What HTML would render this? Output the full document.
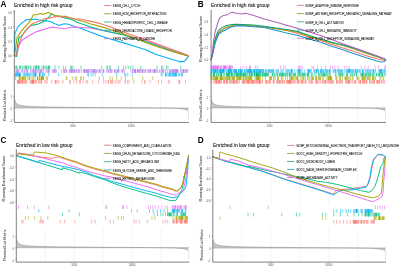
<!DOCTYPE html>
<html><head><meta charset="utf-8"><style>
html,body{margin:0;padding:0;background:#fff;width:400px;height:267px;overflow:hidden}
svg{display:block;will-change:transform;filter:blur(0.3px)}
text{font-family:"Liberation Sans", sans-serif}
</style></head><body>
<svg width="400" height="267" viewBox="0 0 400 267">
<rect width="400" height="267" fill="#fff"/>
<text x="0.50" y="7.00" font-size="8.20" text-anchor="start" font-weight="bold" fill="#000">A</text>
<text x="14.00" y="6.60" font-size="4.95" text-anchor="start" font-weight="normal" fill="#2a2a2a" stroke="#2a2a2a" stroke-width="0.12">Enriched in high risk group</text>
<line x1="43.57" y1="10.00" x2="43.57" y2="63.50" stroke="#efefef" stroke-width="0.6"/>
<line x1="43.57" y1="88.00" x2="43.57" y2="122.45" stroke="#efefef" stroke-width="0.6"/>
<line x1="72.85" y1="10.00" x2="72.85" y2="63.50" stroke="#efefef" stroke-width="0.6"/>
<line x1="72.85" y1="88.00" x2="72.85" y2="122.45" stroke="#efefef" stroke-width="0.6"/>
<line x1="102.12" y1="10.00" x2="102.12" y2="63.50" stroke="#efefef" stroke-width="0.6"/>
<line x1="102.12" y1="88.00" x2="102.12" y2="122.45" stroke="#efefef" stroke-width="0.6"/>
<line x1="131.39" y1="10.00" x2="131.39" y2="63.50" stroke="#efefef" stroke-width="0.6"/>
<line x1="131.39" y1="88.00" x2="131.39" y2="122.45" stroke="#efefef" stroke-width="0.6"/>
<line x1="160.66" y1="10.00" x2="160.66" y2="63.50" stroke="#efefef" stroke-width="0.6"/>
<line x1="160.66" y1="88.00" x2="160.66" y2="122.45" stroke="#efefef" stroke-width="0.6"/>
<polygon points="14.90,108.00 14.70,99.50 15.20,101.20 15.90,102.80 16.90,103.80 18.30,104.70 20.30,105.30 23.30,105.80 28.30,106.25 36.30,106.65 49.30,107.00 74.30,107.35 114.30,107.65 159.00,107.95 175.00,108.30 183.00,109.00 187.00,110.00 188.20,111.00 188.20,108.00" fill="#c6c6c6" stroke="none"/>
<polyline points="14.70,99.50 15.20,101.20 15.90,102.80 16.90,103.80 18.30,104.70 20.30,105.30 23.30,105.80 28.30,106.25 36.30,106.65 49.30,107.00 74.30,107.35 114.30,107.65 159.00,107.95 175.00,108.30 183.00,109.00 187.00,110.00 188.20,111.00" fill="none" stroke="#8a8a8a" stroke-width="0.5"/>
<line x1="188.50" y1="111.00" x2="188.50" y2="119.90" stroke="#d4d4d4" stroke-width="0.6"/>
<line x1="14.30" y1="108.00" x2="189.00" y2="108.00" stroke="#9a9a9a" stroke-width="0.6"/>
<path d="M15.34 65.60V69.20M16.74 65.60V69.20M16.75 65.60V69.20M19.83 65.60V69.20M19.86 65.60V69.20M20.78 65.60V69.20M22.37 65.60V69.20M23.90 65.60V69.20M25.07 65.60V69.20M25.74 65.60V69.20M26.14 65.60V69.20M26.61 65.60V69.20M27.94 65.60V69.20M28.48 65.60V69.20M30.13 65.60V69.20M31.10 65.60V69.20M33.32 65.60V69.20M35.08 65.60V69.20M35.32 65.60V69.20M36.19 65.60V69.20M36.54 65.60V69.20M37.94 65.60V69.20M38.23 65.60V69.20M38.69 65.60V69.20M39.07 65.60V69.20M41.92 65.60V69.20M43.50 65.60V69.20M43.86 65.60V69.20M45.13 65.60V69.20M46.46 65.60V69.20M47.95 65.60V69.20M48.36 65.60V69.20M48.93 65.60V69.20M49.39 65.60V69.20M49.88 65.60V69.20M55.10 65.60V69.20M58.97 65.60V69.20M63.33 65.60V69.20M65.58 65.60V69.20M70.66 65.60V69.20M71.59 65.60V69.20M72.96 65.60V69.20M80.95 65.60V69.20M101.64 65.60V69.20M106.98 65.60V69.20M107.14 65.60V69.20M109.79 65.60V69.20M110.17 65.60V69.20M118.53 65.60V69.20M123.62 65.60V69.20M125.76 65.60V69.20M128.28 65.60V69.20M130.67 65.60V69.20M132.98 65.60V69.20M140.79 65.60V69.20M157.02 65.60V69.20M161.43 65.60V69.20M162.88 65.60V69.20M166.48 65.60V69.20M168.01 65.60V69.20M180.78 65.60V69.20" stroke="#00BF7D" stroke-width="0.55" stroke-opacity="1.00" fill="none"/>
<path d="M15.80 69.20V72.80M16.40 69.20V72.80M16.87 69.20V72.80M17.57 69.20V72.80M17.99 69.20V72.80M18.81 69.20V72.80M18.95 69.20V72.80M21.47 69.20V72.80M22.55 69.20V72.80M22.77 69.20V72.80M24.34 69.20V72.80M24.83 69.20V72.80M26.27 69.20V72.80M26.70 69.20V72.80M27.28 69.20V72.80M27.75 69.20V72.80M30.58 69.20V72.80M31.14 69.20V72.80M32.73 69.20V72.80M33.20 69.20V72.80M33.40 69.20V72.80M33.66 69.20V72.80M33.73 69.20V72.80M35.09 69.20V72.80M35.41 69.20V72.80M35.57 69.20V72.80M35.86 69.20V72.80M36.23 69.20V72.80M37.48 69.20V72.80M38.58 69.20V72.80M39.70 69.20V72.80M40.27 69.20V72.80M40.68 69.20V72.80M41.23 69.20V72.80M41.57 69.20V72.80M42.80 69.20V72.80M43.37 69.20V72.80M45.70 69.20V72.80M46.76 69.20V72.80M47.42 69.20V72.80M48.64 69.20V72.80M48.73 69.20V72.80M48.89 69.20V72.80M48.92 69.20V72.80M51.98 69.20V72.80M53.33 69.20V72.80M53.60 69.20V72.80M54.29 69.20V72.80M54.83 69.20V72.80M54.91 69.20V72.80M55.00 69.20V72.80M56.47 69.20V72.80M61.37 69.20V72.80M63.42 69.20V72.80M64.09 69.20V72.80M64.25 69.20V72.80M64.68 69.20V72.80M65.75 69.20V72.80M66.42 69.20V72.80M66.88 69.20V72.80M69.55 69.20V72.80M69.62 69.20V72.80M70.67 69.20V72.80M71.20 69.20V72.80M71.25 69.20V72.80M71.48 69.20V72.80M72.11 69.20V72.80M72.56 69.20V72.80M72.98 69.20V72.80M73.35 69.20V72.80M74.64 69.20V72.80M74.73 69.20V72.80M75.08 69.20V72.80M76.68 69.20V72.80M76.87 69.20V72.80M78.50 69.20V72.80M78.58 69.20V72.80M79.68 69.20V72.80M81.42 69.20V72.80M83.37 69.20V72.80M84.10 69.20V72.80M84.21 69.20V72.80M84.39 69.20V72.80M85.04 69.20V72.80M85.91 69.20V72.80M86.03 69.20V72.80M86.77 69.20V72.80M87.01 69.20V72.80M87.52 69.20V72.80M87.70 69.20V72.80M88.55 69.20V72.80M88.82 69.20V72.80M88.87 69.20V72.80M90.78 69.20V72.80M91.01 69.20V72.80M92.04 69.20V72.80M92.62 69.20V72.80M93.04 69.20V72.80M93.44 69.20V72.80M94.23 69.20V72.80M94.38 69.20V72.80M94.54 69.20V72.80M95.92 69.20V72.80M95.99 69.20V72.80M95.99 69.20V72.80M97.31 69.20V72.80M98.97 69.20V72.80M99.34 69.20V72.80M99.93 69.20V72.80M100.32 69.20V72.80M102.18 69.20V72.80M103.20 69.20V72.80M103.45 69.20V72.80M103.91 69.20V72.80M106.33 69.20V72.80M107.63 69.20V72.80M108.47 69.20V72.80M108.83 69.20V72.80M110.17 69.20V72.80M110.44 69.20V72.80M110.94 69.20V72.80M111.68 69.20V72.80M112.08 69.20V72.80M114.56 69.20V72.80M115.02 69.20V72.80M115.10 69.20V72.80M116.29 69.20V72.80M117.51 69.20V72.80M117.68 69.20V72.80M118.16 69.20V72.80M118.38 69.20V72.80M119.10 69.20V72.80M121.22 69.20V72.80M122.60 69.20V72.80M122.76 69.20V72.80M122.95 69.20V72.80M124.65 69.20V72.80M130.81 69.20V72.80M132.47 69.20V72.80M132.48 69.20V72.80M134.09 69.20V72.80M134.17 69.20V72.80M134.40 69.20V72.80M135.20 69.20V72.80M135.42 69.20V72.80M135.42 69.20V72.80M135.47 69.20V72.80M135.64 69.20V72.80M137.15 69.20V72.80M137.76 69.20V72.80M137.76 69.20V72.80M138.05 69.20V72.80M138.72 69.20V72.80M139.40 69.20V72.80M139.43 69.20V72.80M140.75 69.20V72.80M141.31 69.20V72.80M142.16 69.20V72.80M142.56 69.20V72.80M142.87 69.20V72.80M143.11 69.20V72.80M144.77 69.20V72.80M145.16 69.20V72.80M145.90 69.20V72.80M147.45 69.20V72.80M148.33 69.20V72.80M149.09 69.20V72.80M149.99 69.20V72.80M150.32 69.20V72.80M150.67 69.20V72.80M150.78 69.20V72.80M152.76 69.20V72.80M153.75 69.20V72.80M154.04 69.20V72.80M154.22 69.20V72.80M154.61 69.20V72.80M154.86 69.20V72.80M154.87 69.20V72.80M155.17 69.20V72.80M156.53 69.20V72.80M157.51 69.20V72.80M159.36 69.20V72.80M160.09 69.20V72.80M161.61 69.20V72.80M161.95 69.20V72.80M162.42 69.20V72.80M163.23 69.20V72.80M163.55 69.20V72.80M165.04 69.20V72.80M165.79 69.20V72.80M167.63 69.20V72.80M169.40 69.20V72.80M169.65 69.20V72.80M170.80 69.20V72.80M171.18 69.20V72.80M171.76 69.20V72.80M172.85 69.20V72.80M172.91 69.20V72.80M173.16 69.20V72.80M173.49 69.20V72.80M174.26 69.20V72.80M174.36 69.20V72.80M175.42 69.20V72.80M175.51 69.20V72.80M176.12 69.20V72.80M176.46 69.20V72.80M176.69 69.20V72.80M177.19 69.20V72.80M177.29 69.20V72.80M177.59 69.20V72.80M177.98 69.20V72.80M180.49 69.20V72.80M181.72 69.20V72.80M182.85 69.20V72.80M183.30 69.20V72.80M183.31 69.20V72.80M183.47 69.20V72.80M184.34 69.20V72.80M185.53 69.20V72.80M185.54 69.20V72.80M186.65 69.20V72.80M187.16 69.20V72.80M187.92 69.20V72.80" stroke="#B27AEE" stroke-width="0.55" stroke-opacity="1.00" fill="none"/>
<path d="M15.52 72.80V76.40M15.75 72.80V76.40M16.73 72.80V76.40M16.95 72.80V76.40M17.01 72.80V76.40M17.42 72.80V76.40M17.91 72.80V76.40M18.55 72.80V76.40M19.23 72.80V76.40M19.45 72.80V76.40M19.53 72.80V76.40M20.04 72.80V76.40M20.07 72.80V76.40M20.30 72.80V76.40M23.37 72.80V76.40M24.51 72.80V76.40M25.24 72.80V76.40M26.37 72.80V76.40M27.26 72.80V76.40M27.81 72.80V76.40M28.31 72.80V76.40M29.34 72.80V76.40M30.37 72.80V76.40M31.83 72.80V76.40M33.12 72.80V76.40M33.72 72.80V76.40M34.79 72.80V76.40M34.91 72.80V76.40M35.06 72.80V76.40M35.67 72.80V76.40M35.78 72.80V76.40M35.97 72.80V76.40M39.35 72.80V76.40M39.51 72.80V76.40M39.60 72.80V76.40M40.30 72.80V76.40M42.20 72.80V76.40M42.47 72.80V76.40M43.41 72.80V76.40M44.62 72.80V76.40M48.66 72.80V76.40M58.66 72.80V76.40M87.76 72.80V76.40M88.58 72.80V76.40M91.15 72.80V76.40M93.06 72.80V76.40M95.26 72.80V76.40M102.21 72.80V76.40M116.52 72.80V76.40M124.63 72.80V76.40M125.85 72.80V76.40M127.81 72.80V76.40M132.16 72.80V76.40M161.10 72.80V76.40M162.16 72.80V76.40M165.59 72.80V76.40M165.77 72.80V76.40M166.09 72.80V76.40M167.15 72.80V76.40M168.74 72.80V76.40M169.38 72.80V76.40M169.67 72.80V76.40M169.93 72.80V76.40M170.81 72.80V76.40M170.92 72.80V76.40M172.23 72.80V76.40M172.63 72.80V76.40M173.15 72.80V76.40M173.97 72.80V76.40M174.03 72.80V76.40M174.64 72.80V76.40M175.50 72.80V76.40M175.74 72.80V76.40M175.90 72.80V76.40M176.55 72.80V76.40M178.38 72.80V76.40M179.61 72.80V76.40M181.21 72.80V76.40M182.01 72.80V76.40M182.27 72.80V76.40" stroke="#00B0F6" stroke-width="0.55" stroke-opacity="1.00" fill="none"/>
<path d="M15.67 76.40V80.00M19.05 76.40V80.00M19.47 76.40V80.00M20.01 76.40V80.00M20.03 76.40V80.00M21.29 76.40V80.00M22.22 76.40V80.00M22.59 76.40V80.00M22.76 76.40V80.00M23.62 76.40V80.00M23.70 76.40V80.00M24.25 76.40V80.00M24.86 76.40V80.00M25.49 76.40V80.00M27.15 76.40V80.00M29.29 76.40V80.00M29.30 76.40V80.00M29.36 76.40V80.00M31.17 76.40V80.00M32.63 76.40V80.00M33.70 76.40V80.00M35.16 76.40V80.00M37.64 76.40V80.00M37.68 76.40V80.00M37.86 76.40V80.00M39.28 76.40V80.00M39.63 76.40V80.00M39.96 76.40V80.00M41.24 76.40V80.00M41.38 76.40V80.00M41.64 76.40V80.00M41.76 76.40V80.00M42.08 76.40V80.00M42.30 76.40V80.00M42.68 76.40V80.00M43.06 76.40V80.00M43.08 76.40V80.00M43.78 76.40V80.00M46.34 76.40V80.00M47.53 76.40V80.00M66.31 76.40V80.00M66.88 76.40V80.00M72.73 76.40V80.00M75.23 76.40V80.00M76.37 76.40V80.00M80.96 76.40V80.00M80.99 76.40V80.00M83.46 76.40V80.00M99.30 76.40V80.00M103.41 76.40V80.00M110.08 76.40V80.00M112.32 76.40V80.00M116.72 76.40V80.00M121.18 76.40V80.00M125.59 76.40V80.00M132.77 76.40V80.00M142.76 76.40V80.00M152.78 76.40V80.00" stroke="#A3A500" stroke-width="0.55" stroke-opacity="1.00" fill="none"/>
<path d="M17.43 80.00V83.60M17.74 80.00V83.60M18.06 80.00V83.60M18.19 80.00V83.60M18.37 80.00V83.60M18.50 80.00V83.60M19.21 80.00V83.60M19.62 80.00V83.60M20.06 80.00V83.60M20.68 80.00V83.60M21.18 80.00V83.60M22.05 80.00V83.60M22.18 80.00V83.60M22.47 80.00V83.60M23.32 80.00V83.60M24.23 80.00V83.60M24.80 80.00V83.60M25.83 80.00V83.60M26.02 80.00V83.60M26.96 80.00V83.60M29.98 80.00V83.60M30.99 80.00V83.60M31.48 80.00V83.60M32.13 80.00V83.60M32.18 80.00V83.60M32.67 80.00V83.60M32.67 80.00V83.60M32.85 80.00V83.60M33.00 80.00V83.60M33.54 80.00V83.60M33.61 80.00V83.60M34.03 80.00V83.60M34.87 80.00V83.60M36.04 80.00V83.60M36.75 80.00V83.60M38.59 80.00V83.60M39.36 80.00V83.60M40.40 80.00V83.60M41.41 80.00V83.60M41.74 80.00V83.60M44.79 80.00V83.60M46.09 80.00V83.60M47.08 80.00V83.60M51.70 80.00V83.60M55.07 80.00V83.60M55.58 80.00V83.60M55.85 80.00V83.60M56.95 80.00V83.60M58.63 80.00V83.60M62.92 80.00V83.60M69.55 80.00V83.60M70.30 80.00V83.60M73.86 80.00V83.60M76.49 80.00V83.60M79.39 80.00V83.60M80.48 80.00V83.60M82.98 80.00V83.60M86.13 80.00V83.60M87.62 80.00V83.60M92.73 80.00V83.60M98.63 80.00V83.60M103.77 80.00V83.60M105.81 80.00V83.60M108.08 80.00V83.60M108.45 80.00V83.60M110.51 80.00V83.60M111.28 80.00V83.60M112.14 80.00V83.60M112.79 80.00V83.60M115.07 80.00V83.60M117.01 80.00V83.60M118.76 80.00V83.60M120.09 80.00V83.60M125.13 80.00V83.60M125.43 80.00V83.60M127.56 80.00V83.60M128.94 80.00V83.60M133.75 80.00V83.60M142.06 80.00V83.60M144.71 80.00V83.60M144.91 80.00V83.60M150.09 80.00V83.60M158.54 80.00V83.60M161.45 80.00V83.60M168.36 80.00V83.60M169.72 80.00V83.60M179.10 80.00V83.60M179.11 80.00V83.60M179.81 80.00V83.60M185.50 80.00V83.60" stroke="#F8766D" stroke-width="0.55" stroke-opacity="1.00" fill="none"/>
<polyline points="14.50,55.50 14.80,33.90 17.60,27.10 22.10,22.60 26.60,19.80 30.00,19.20 31.70,19.80 34.50,19.00 37.90,19.80 41.20,20.40 45.70,21.00 50.20,21.50 55.00,23.70 59.50,25.40 64.00,23.70 68.50,24.30 74.10,26.60 80.90,28.20 88.70,31.60 95.50,33.90 100.00,35.70 111.20,39.30 122.50,42.60 133.70,46.00 145.00,49.50 156.20,54.40 167.50,58.00 176.50,60.70 181.00,61.90 184.40,61.30 187.70,57.40 188.30,55.70" fill="none" stroke="#00B0F6" stroke-width="1.10" stroke-linejoin="round" stroke-linecap="round"/>
<polyline points="14.50,55.50 16.50,56.40 17.60,51.90 18.70,46.20 21.00,41.70 23.20,39.50 26.60,37.20 30.00,35.00 32.20,33.90 36.70,31.60 42.40,29.90 48.00,28.20 52.50,27.10 57.00,27.70 60.60,28.20 64.00,28.80 68.50,27.70 74.10,26.96 80.90,27.60 88.70,27.80 95.50,28.90 100.00,29.90 111.20,32.20 122.50,34.40 133.70,37.40 141.60,39.60 145.00,40.40 156.20,44.60 167.50,48.80 178.70,52.70 188.30,56.00" fill="none" stroke="#E76BF3" stroke-width="1.10" stroke-linejoin="round" stroke-linecap="round"/>
<polyline points="14.50,55.50 16.50,56.40 17.00,49.60 18.70,38.00 20.40,37.00 23.20,33.90 27.70,28.20 31.10,25.40 34.50,24.90 39.00,23.70 42.40,22.10 45.70,20.40 49.10,17.00 51.40,14.20 53.60,14.70 55.00,15.90 59.50,16.40 66.20,18.10 71.90,19.44 77.50,22.44 84.20,24.70 91.00,27.00 100.00,29.80 111.20,32.20 122.50,34.60 133.70,38.20 145.00,41.40 156.20,45.40 167.50,49.40 178.70,53.10 188.30,56.00" fill="none" stroke="#00BF7D" stroke-width="1.10" stroke-linejoin="round" stroke-linecap="round"/>
<polyline points="14.50,55.50 16.00,45.00 17.00,38.00 21.00,31.60 24.40,27.70 28.90,22.60 31.70,18.10 33.40,14.70 36.70,14.70 40.10,13.60 43.50,14.20 48.00,12.50 51.40,13.60 55.00,15.90 61.70,16.40 66.20,16.40 71.90,18.29 77.50,19.95 84.20,21.70 91.00,24.00 100.00,26.40 111.20,29.80 122.50,33.60 133.70,37.80 145.00,42.20 156.20,46.20 167.50,50.00 178.70,53.40 188.30,55.80" fill="none" stroke="#A3A500" stroke-width="1.10" stroke-linejoin="round" stroke-linecap="round"/>
<polyline points="14.50,55.50 16.50,55.00 19.00,44.00 22.00,36.00 26.00,30.00 29.00,27.00 32.20,23.70 36.70,22.10 41.20,20.40 44.60,18.70 49.10,18.10 53.60,17.00 57.00,16.40 66.20,17.00 74.00,18.70 80.90,19.20 88.70,20.90 94.40,22.10 100.00,23.40 111.20,27.30 122.50,31.80 133.70,35.60 145.00,39.40 156.20,43.60 167.50,47.80 178.70,51.80 188.30,55.60" fill="none" stroke="#F8766D" stroke-width="1.10" stroke-linejoin="round" stroke-linecap="round"/>
<line x1="104.10" y1="5.50" x2="111.40" y2="5.50" stroke="#ce7a74" stroke-width="0.85"/>
<text x="112.80" y="7.20" font-size="2.80" text-anchor="start" font-weight="normal" fill="#222" stroke="#222" stroke-width="0.07">KEGG_CELL_CYCLE</text>
<line x1="104.10" y1="13.75" x2="111.40" y2="13.75" stroke="#97982d" stroke-width="0.85"/>
<text x="112.80" y="15.45" font-size="2.80" text-anchor="start" font-weight="normal" fill="#222" stroke="#222" stroke-width="0.07">KEGG_ECM_RECEPTOR_INTERACTION</text>
<line x1="104.10" y1="22.00" x2="111.40" y2="22.00" stroke="#2da97e" stroke-width="0.85"/>
<text x="112.80" y="23.70" font-size="2.80" text-anchor="start" font-weight="normal" fill="#222" stroke="#222" stroke-width="0.07">KEGG_HEMATOPOIETIC_CELL_LINEAGE</text>
<line x1="104.10" y1="30.25" x2="111.40" y2="30.25" stroke="#2d9fcd" stroke-width="0.85"/>
<text x="112.80" y="31.95" font-size="2.80" text-anchor="start" font-weight="normal" fill="#222" stroke="#222" stroke-width="0.07">KEGG_NEUROACTIVE_LIGAND_RECEPTOR</text>
<line x1="104.10" y1="38.50" x2="111.40" y2="38.50" stroke="#c372cb" stroke-width="0.85"/>
<text x="112.80" y="40.20" font-size="2.80" text-anchor="start" font-weight="normal" fill="#222" stroke="#222" stroke-width="0.07">KEGG_PATHWAYS_IN_CANCER</text>
<line x1="14.30" y1="10.00" x2="14.30" y2="122.45" stroke="#555" stroke-width="0.75"/>
<line x1="14.30" y1="122.45" x2="189.00" y2="122.45" stroke="#4d4d4d" stroke-width="0.7"/>
<line x1="13.30" y1="12.30" x2="14.30" y2="12.30" stroke="#666" stroke-width="0.5"/>
<text x="12.10" y="14.10" font-size="2.70" text-anchor="end" font-weight="normal" fill="#505050">0.6</text>
<line x1="13.30" y1="26.70" x2="14.30" y2="26.70" stroke="#666" stroke-width="0.5"/>
<text x="12.10" y="28.50" font-size="2.70" text-anchor="end" font-weight="normal" fill="#505050">0.4</text>
<line x1="13.30" y1="41.10" x2="14.30" y2="41.10" stroke="#666" stroke-width="0.5"/>
<text x="12.10" y="42.90" font-size="2.70" text-anchor="end" font-weight="normal" fill="#505050">0.2</text>
<line x1="13.30" y1="55.50" x2="14.30" y2="55.50" stroke="#666" stroke-width="0.5"/>
<text x="12.10" y="57.30" font-size="2.70" text-anchor="end" font-weight="normal" fill="#505050">0.0</text>
<line x1="13.30" y1="96.60" x2="14.30" y2="96.60" stroke="#666" stroke-width="0.5"/>
<text x="12.10" y="98.40" font-size="2.70" text-anchor="end" font-weight="normal" fill="#505050">1</text>
<line x1="13.30" y1="108.10" x2="14.30" y2="108.10" stroke="#666" stroke-width="0.5"/>
<text x="12.10" y="109.90" font-size="2.70" text-anchor="end" font-weight="normal" fill="#505050">0</text>
<line x1="13.30" y1="119.90" x2="14.30" y2="119.90" stroke="#666" stroke-width="0.5"/>
<text x="12.10" y="121.70" font-size="2.70" text-anchor="end" font-weight="normal" fill="#505050">-1</text>
<line x1="72.85" y1="122.45" x2="72.85" y2="123.45" stroke="#666" stroke-width="0.5"/>
<text x="72.85" y="126.65" font-size="2.55" text-anchor="middle" font-weight="normal" fill="#555">5000</text>
<line x1="131.39" y1="122.45" x2="131.39" y2="123.45" stroke="#666" stroke-width="0.5"/>
<text x="131.39" y="126.65" font-size="2.55" text-anchor="middle" font-weight="normal" fill="#555">10000</text>
<text x="5.60" y="39.00" font-size="3.85" text-anchor="middle" font-weight="normal" fill="#3a3a3a" transform="rotate(-90 5.60 39.00)" stroke="#3a3a3a" stroke-width="0.04">Running Enrichment Score</text>
<text x="5.60" y="105.30" font-size="3.80" text-anchor="middle" font-weight="normal" fill="#3a3a3a" transform="rotate(-90 5.60 105.30)" stroke="#3a3a3a" stroke-width="0.04">Ranked List Metric</text>
<text x="197.80" y="7.00" font-size="8.20" text-anchor="start" font-weight="bold" fill="#000">B</text>
<text x="211.00" y="6.60" font-size="4.95" text-anchor="start" font-weight="normal" fill="#2a2a2a" stroke="#2a2a2a" stroke-width="0.12">Enriched in high risk group</text>
<line x1="240.41" y1="9.90" x2="240.41" y2="63.50" stroke="#efefef" stroke-width="0.6"/>
<line x1="240.41" y1="88.00" x2="240.41" y2="122.45" stroke="#efefef" stroke-width="0.6"/>
<line x1="269.71" y1="9.90" x2="269.71" y2="63.50" stroke="#efefef" stroke-width="0.6"/>
<line x1="269.71" y1="88.00" x2="269.71" y2="122.45" stroke="#efefef" stroke-width="0.6"/>
<line x1="299.02" y1="9.90" x2="299.02" y2="63.50" stroke="#efefef" stroke-width="0.6"/>
<line x1="299.02" y1="88.00" x2="299.02" y2="122.45" stroke="#efefef" stroke-width="0.6"/>
<line x1="328.33" y1="9.90" x2="328.33" y2="63.50" stroke="#efefef" stroke-width="0.6"/>
<line x1="328.33" y1="88.00" x2="328.33" y2="122.45" stroke="#efefef" stroke-width="0.6"/>
<line x1="357.63" y1="9.90" x2="357.63" y2="63.50" stroke="#efefef" stroke-width="0.6"/>
<line x1="357.63" y1="88.00" x2="357.63" y2="122.45" stroke="#efefef" stroke-width="0.6"/>
<polygon points="211.70,107.90 211.50,99.40 212.00,101.10 212.70,102.70 213.70,103.70 215.10,104.60 217.10,105.20 220.10,105.70 225.10,106.15 233.10,106.55 246.10,106.90 271.10,107.25 311.10,107.55 356.00,107.85 372.00,108.20 380.00,108.90 384.00,109.90 385.20,110.90 385.20,107.90" fill="#c6c6c6" stroke="none"/>
<polyline points="211.50,99.40 212.00,101.10 212.70,102.70 213.70,103.70 215.10,104.60 217.10,105.20 220.10,105.70 225.10,106.15 233.10,106.55 246.10,106.90 271.10,107.25 311.10,107.55 356.00,107.85 372.00,108.20 380.00,108.90 384.00,109.90 385.20,110.90" fill="none" stroke="#8a8a8a" stroke-width="0.5"/>
<line x1="385.50" y1="110.90" x2="385.50" y2="119.80" stroke="#d4d4d4" stroke-width="0.6"/>
<line x1="211.10" y1="107.90" x2="386.00" y2="107.90" stroke="#9a9a9a" stroke-width="0.6"/>
<path d="M211.77 65.60V69.20M211.98 65.60V69.20M212.22 65.60V69.20M213.17 65.60V69.20M213.44 65.60V69.20M213.62 65.60V69.20M213.91 65.60V69.20M214.31 65.60V69.20M214.85 65.60V69.20M214.97 65.60V69.20M215.40 65.60V69.20M215.78 65.60V69.20M216.00 65.60V69.20M216.37 65.60V69.20M216.83 65.60V69.20M217.31 65.60V69.20M217.67 65.60V69.20M218.00 65.60V69.20M218.04 65.60V69.20M218.38 65.60V69.20M219.94 65.60V69.20M220.26 65.60V69.20M220.71 65.60V69.20M221.59 65.60V69.20M223.25 65.60V69.20M223.25 65.60V69.20M223.79 65.60V69.20M224.37 65.60V69.20M224.53 65.60V69.20M224.72 65.60V69.20M224.76 65.60V69.20M225.57 65.60V69.20M225.65 65.60V69.20M225.72 65.60V69.20M225.97 65.60V69.20M227.21 65.60V69.20M228.01 65.60V69.20M229.11 65.60V69.20M229.38 65.60V69.20M230.04 65.60V69.20M230.05 65.60V69.20M230.07 65.60V69.20M230.13 65.60V69.20M230.98 65.60V69.20M231.87 65.60V69.20M232.31 65.60V69.20M240.37 65.60V69.20M243.26 65.60V69.20M246.36 65.60V69.20M249.68 65.60V69.20M249.92 65.60V69.20M250.10 65.60V69.20M255.56 65.60V69.20M257.36 65.60V69.20M280.56 65.60V69.20M283.36 65.60V69.20M285.10 65.60V69.20M298.67 65.60V69.20M299.21 65.60V69.20M300.90 65.60V69.20M302.10 65.60V69.20M312.00 65.60V69.20M313.67 65.60V69.20M317.58 65.60V69.20M321.38 65.60V69.20M325.58 65.60V69.20M330.36 65.60V69.20M332.33 65.60V69.20M334.77 65.60V69.20M338.23 65.60V69.20M344.39 65.60V69.20M347.07 65.60V69.20M349.49 65.60V69.20M361.28 65.60V69.20M364.93 65.60V69.20M368.17 65.60V69.20M375.04 65.60V69.20M378.69 65.60V69.20M384.87 65.60V69.20M385.38 65.60V69.20" stroke="#E76BF3" stroke-width="0.55" stroke-opacity="1.00" fill="none"/>
<path d="M212.15 69.20V72.80M213.29 69.20V72.80M213.64 69.20V72.80M213.78 69.20V72.80M214.03 69.20V72.80M214.50 69.20V72.80M215.15 69.20V72.80M215.32 69.20V72.80M215.33 69.20V72.80M215.33 69.20V72.80M216.48 69.20V72.80M216.96 69.20V72.80M217.56 69.20V72.80M217.88 69.20V72.80M217.99 69.20V72.80M219.43 69.20V72.80M219.79 69.20V72.80M219.92 69.20V72.80M220.16 69.20V72.80M220.19 69.20V72.80M220.67 69.20V72.80M220.97 69.20V72.80M221.65 69.20V72.80M222.01 69.20V72.80M222.37 69.20V72.80M222.66 69.20V72.80M223.15 69.20V72.80M223.17 69.20V72.80M223.27 69.20V72.80M223.33 69.20V72.80M223.87 69.20V72.80M224.38 69.20V72.80M225.91 69.20V72.80M226.72 69.20V72.80M227.79 69.20V72.80M228.23 69.20V72.80M228.46 69.20V72.80M228.64 69.20V72.80M228.71 69.20V72.80M229.53 69.20V72.80M229.69 69.20V72.80M229.81 69.20V72.80M229.99 69.20V72.80M230.03 69.20V72.80M230.52 69.20V72.80M230.56 69.20V72.80M231.54 69.20V72.80M231.66 69.20V72.80M232.14 69.20V72.80M233.66 69.20V72.80M233.75 69.20V72.80M234.86 69.20V72.80M235.00 69.20V72.80M235.19 69.20V72.80M235.27 69.20V72.80M235.56 69.20V72.80M235.59 69.20V72.80M235.81 69.20V72.80M235.88 69.20V72.80M236.24 69.20V72.80M236.60 69.20V72.80M238.42 69.20V72.80M238.50 69.20V72.80M238.71 69.20V72.80M239.88 69.20V72.80M240.10 69.20V72.80M240.34 69.20V72.80M240.67 69.20V72.80M241.23 69.20V72.80M241.56 69.20V72.80M241.89 69.20V72.80M242.48 69.20V72.80M244.44 69.20V72.80M244.80 69.20V72.80M245.11 69.20V72.80M246.47 69.20V72.80M247.03 69.20V72.80M247.46 69.20V72.80M247.91 69.20V72.80M248.23 69.20V72.80M248.61 69.20V72.80M249.15 69.20V72.80M249.30 69.20V72.80M249.45 69.20V72.80M250.05 69.20V72.80M250.10 69.20V72.80M250.65 69.20V72.80M250.78 69.20V72.80M251.06 69.20V72.80M251.24 69.20V72.80M251.70 69.20V72.80M252.18 69.20V72.80M253.56 69.20V72.80M254.00 69.20V72.80M254.05 69.20V72.80M254.39 69.20V72.80M254.60 69.20V72.80M254.91 69.20V72.80M255.14 69.20V72.80M256.31 69.20V72.80M256.50 69.20V72.80M256.54 69.20V72.80M257.69 69.20V72.80M258.00 69.20V72.80M258.15 69.20V72.80M258.50 69.20V72.80M259.48 69.20V72.80M259.66 69.20V72.80M259.75 69.20V72.80M259.88 69.20V72.80M260.80 69.20V72.80M260.99 69.20V72.80M261.29 69.20V72.80M262.49 69.20V72.80M262.96 69.20V72.80M263.19 69.20V72.80M263.57 69.20V72.80M265.28 69.20V72.80M265.82 69.20V72.80M266.15 69.20V72.80M268.00 69.20V72.80M268.03 69.20V72.80M269.24 69.20V72.80M269.59 69.20V72.80M270.02 69.20V72.80M270.76 69.20V72.80M271.84 69.20V72.80M271.95 69.20V72.80M272.42 69.20V72.80M273.56 69.20V72.80M273.64 69.20V72.80M275.94 69.20V72.80M276.83 69.20V72.80M277.74 69.20V72.80M278.32 69.20V72.80M280.93 69.20V72.80M282.09 69.20V72.80M283.18 69.20V72.80M285.93 69.20V72.80M286.72 69.20V72.80M287.67 69.20V72.80M288.41 69.20V72.80M289.79 69.20V72.80M290.91 69.20V72.80M291.13 69.20V72.80M291.78 69.20V72.80M291.87 69.20V72.80M292.41 69.20V72.80M294.77 69.20V72.80M297.17 69.20V72.80M298.13 69.20V72.80M298.81 69.20V72.80M298.99 69.20V72.80M299.08 69.20V72.80M299.28 69.20V72.80M299.39 69.20V72.80M299.52 69.20V72.80M300.08 69.20V72.80M300.86 69.20V72.80M302.25 69.20V72.80M304.76 69.20V72.80M307.60 69.20V72.80M308.56 69.20V72.80M308.63 69.20V72.80M309.00 69.20V72.80M309.06 69.20V72.80M309.29 69.20V72.80M310.59 69.20V72.80M311.11 69.20V72.80M313.69 69.20V72.80M314.67 69.20V72.80M315.77 69.20V72.80M316.30 69.20V72.80M316.46 69.20V72.80M317.46 69.20V72.80M318.26 69.20V72.80M318.45 69.20V72.80M320.35 69.20V72.80M320.44 69.20V72.80M321.33 69.20V72.80M321.98 69.20V72.80M322.23 69.20V72.80M323.39 69.20V72.80M324.03 69.20V72.80M325.20 69.20V72.80M326.23 69.20V72.80M326.25 69.20V72.80M327.33 69.20V72.80M327.87 69.20V72.80M329.22 69.20V72.80M329.30 69.20V72.80M329.71 69.20V72.80M330.65 69.20V72.80M333.22 69.20V72.80M333.63 69.20V72.80M334.80 69.20V72.80M335.75 69.20V72.80M335.77 69.20V72.80M337.45 69.20V72.80M338.30 69.20V72.80M338.98 69.20V72.80M339.61 69.20V72.80M340.84 69.20V72.80M341.13 69.20V72.80M341.23 69.20V72.80M342.57 69.20V72.80M344.17 69.20V72.80M346.05 69.20V72.80M346.35 69.20V72.80M347.79 69.20V72.80M348.08 69.20V72.80M348.13 69.20V72.80M348.70 69.20V72.80M348.73 69.20V72.80M349.46 69.20V72.80M349.57 69.20V72.80M349.65 69.20V72.80M350.36 69.20V72.80M351.19 69.20V72.80M351.80 69.20V72.80M352.56 69.20V72.80M353.54 69.20V72.80M353.98 69.20V72.80M355.57 69.20V72.80M355.75 69.20V72.80M356.25 69.20V72.80M356.80 69.20V72.80M357.56 69.20V72.80M358.22 69.20V72.80M359.63 69.20V72.80M360.20 69.20V72.80M362.61 69.20V72.80M362.65 69.20V72.80M362.98 69.20V72.80M363.93 69.20V72.80M365.62 69.20V72.80M367.02 69.20V72.80M367.31 69.20V72.80M368.22 69.20V72.80M369.28 69.20V72.80M370.11 69.20V72.80M371.06 69.20V72.80M372.20 69.20V72.80M373.29 69.20V72.80M373.50 69.20V72.80M374.11 69.20V72.80M375.50 69.20V72.80M378.88 69.20V72.80M379.48 69.20V72.80M380.20 69.20V72.80M380.46 69.20V72.80M380.80 69.20V72.80M380.82 69.20V72.80M381.35 69.20V72.80M381.43 69.20V72.80M381.86 69.20V72.80M383.08 69.20V72.80M383.91 69.20V72.80M384.64 69.20V72.80M385.15 69.20V72.80" stroke="#00B0F6" stroke-width="0.55" stroke-opacity="1.00" fill="none"/>
<path d="M213.13 72.80V76.40M213.55 72.80V76.40M213.77 72.80V76.40M214.33 72.80V76.40M214.36 72.80V76.40M214.50 72.80V76.40M216.23 72.80V76.40M216.64 72.80V76.40M217.79 72.80V76.40M218.74 72.80V76.40M218.83 72.80V76.40M220.23 72.80V76.40M220.84 72.80V76.40M220.88 72.80V76.40M221.13 72.80V76.40M221.18 72.80V76.40M221.67 72.80V76.40M223.12 72.80V76.40M224.40 72.80V76.40M226.27 72.80V76.40M226.75 72.80V76.40M226.91 72.80V76.40M227.00 72.80V76.40M227.33 72.80V76.40M227.76 72.80V76.40M228.59 72.80V76.40M228.76 72.80V76.40M228.98 72.80V76.40M229.07 72.80V76.40M229.15 72.80V76.40M229.94 72.80V76.40M231.23 72.80V76.40M231.33 72.80V76.40M231.65 72.80V76.40M231.72 72.80V76.40M232.72 72.80V76.40M232.81 72.80V76.40M234.11 72.80V76.40M234.71 72.80V76.40M235.93 72.80V76.40M236.30 72.80V76.40M236.58 72.80V76.40M236.83 72.80V76.40M237.15 72.80V76.40M237.36 72.80V76.40M237.53 72.80V76.40M237.70 72.80V76.40M238.07 72.80V76.40M238.24 72.80V76.40M239.18 72.80V76.40M239.96 72.80V76.40M239.98 72.80V76.40M240.06 72.80V76.40M240.30 72.80V76.40M240.59 72.80V76.40M240.85 72.80V76.40M241.20 72.80V76.40M241.39 72.80V76.40M242.88 72.80V76.40M243.06 72.80V76.40M243.24 72.80V76.40M243.27 72.80V76.40M243.73 72.80V76.40M244.04 72.80V76.40M244.32 72.80V76.40M244.89 72.80V76.40M245.30 72.80V76.40M245.52 72.80V76.40M245.99 72.80V76.40M246.91 72.80V76.40M247.70 72.80V76.40M249.15 72.80V76.40M249.49 72.80V76.40M249.64 72.80V76.40M250.20 72.80V76.40M251.35 72.80V76.40M251.61 72.80V76.40M251.75 72.80V76.40M252.63 72.80V76.40M252.79 72.80V76.40M254.31 72.80V76.40M254.70 72.80V76.40M254.98 72.80V76.40M255.99 72.80V76.40M256.21 72.80V76.40M256.34 72.80V76.40M256.40 72.80V76.40M256.62 72.80V76.40M256.74 72.80V76.40M257.02 72.80V76.40M257.25 72.80V76.40M257.70 72.80V76.40M257.82 72.80V76.40M257.92 72.80V76.40M257.99 72.80V76.40M258.06 72.80V76.40M258.14 72.80V76.40M259.58 72.80V76.40M259.83 72.80V76.40M259.93 72.80V76.40M260.51 72.80V76.40M261.15 72.80V76.40M262.29 72.80V76.40M262.75 72.80V76.40M263.01 72.80V76.40M263.76 72.80V76.40M264.15 72.80V76.40M264.82 72.80V76.40M265.10 72.80V76.40M265.28 72.80V76.40M265.32 72.80V76.40M266.18 72.80V76.40M266.38 72.80V76.40M267.16 72.80V76.40M267.23 72.80V76.40M268.22 72.80V76.40M268.39 72.80V76.40M272.27 72.80V76.40M272.42 72.80V76.40M273.00 72.80V76.40M274.28 72.80V76.40M274.88 72.80V76.40M276.15 72.80V76.40M277.48 72.80V76.40M277.62 72.80V76.40M279.26 72.80V76.40M279.88 72.80V76.40M280.05 72.80V76.40M280.38 72.80V76.40M281.59 72.80V76.40M282.11 72.80V76.40M282.11 72.80V76.40M282.47 72.80V76.40M282.76 72.80V76.40M283.73 72.80V76.40M284.00 72.80V76.40M284.57 72.80V76.40M285.60 72.80V76.40M286.17 72.80V76.40M287.26 72.80V76.40M287.42 72.80V76.40M289.07 72.80V76.40M289.40 72.80V76.40M289.73 72.80V76.40M290.05 72.80V76.40M290.11 72.80V76.40M291.38 72.80V76.40M292.12 72.80V76.40M293.55 72.80V76.40M293.89 72.80V76.40M294.82 72.80V76.40M295.00 72.80V76.40M295.45 72.80V76.40M297.59 72.80V76.40M298.65 72.80V76.40M299.12 72.80V76.40M299.83 72.80V76.40M300.49 72.80V76.40M301.86 72.80V76.40M301.88 72.80V76.40M302.91 72.80V76.40M303.13 72.80V76.40M303.36 72.80V76.40M304.39 72.80V76.40M304.61 72.80V76.40M305.62 72.80V76.40M307.22 72.80V76.40M307.60 72.80V76.40M307.84 72.80V76.40M307.87 72.80V76.40M308.19 72.80V76.40M308.73 72.80V76.40M311.12 72.80V76.40M311.91 72.80V76.40M312.27 72.80V76.40M314.73 72.80V76.40M316.09 72.80V76.40M318.52 72.80V76.40M319.22 72.80V76.40M320.07 72.80V76.40M321.33 72.80V76.40M321.74 72.80V76.40M322.84 72.80V76.40M323.00 72.80V76.40M323.60 72.80V76.40M324.24 72.80V76.40M324.62 72.80V76.40M324.78 72.80V76.40M325.23 72.80V76.40M326.43 72.80V76.40M327.35 72.80V76.40M328.20 72.80V76.40M329.48 72.80V76.40M330.27 72.80V76.40M335.40 72.80V76.40M336.06 72.80V76.40M338.42 72.80V76.40M339.63 72.80V76.40M339.96 72.80V76.40M340.67 72.80V76.40M341.39 72.80V76.40M342.18 72.80V76.40M342.63 72.80V76.40M343.89 72.80V76.40M346.49 72.80V76.40M347.20 72.80V76.40M347.78 72.80V76.40M350.49 72.80V76.40M351.60 72.80V76.40M352.60 72.80V76.40M353.22 72.80V76.40M354.54 72.80V76.40M355.97 72.80V76.40M356.55 72.80V76.40M356.74 72.80V76.40M360.90 72.80V76.40M361.13 72.80V76.40M361.64 72.80V76.40M362.47 72.80V76.40M362.99 72.80V76.40M363.03 72.80V76.40M363.35 72.80V76.40M363.98 72.80V76.40M365.10 72.80V76.40M365.68 72.80V76.40M366.64 72.80V76.40M366.91 72.80V76.40M366.97 72.80V76.40M368.85 72.80V76.40M368.95 72.80V76.40M369.14 72.80V76.40M370.15 72.80V76.40M370.62 72.80V76.40M372.07 72.80V76.40M372.53 72.80V76.40M373.58 72.80V76.40M374.57 72.80V76.40M376.56 72.80V76.40M376.66 72.80V76.40M378.23 72.80V76.40M378.67 72.80V76.40M379.52 72.80V76.40M379.76 72.80V76.40M380.84 72.80V76.40M381.86 72.80V76.40M382.16 72.80V76.40M382.28 72.80V76.40M382.70 72.80V76.40M384.18 72.80V76.40M385.30 72.80V76.40" stroke="#00BF7D" stroke-width="0.55" stroke-opacity="1.00" fill="none"/>
<path d="M213.12 76.40V80.00M213.19 76.40V80.00M213.87 76.40V80.00M214.68 76.40V80.00M214.76 76.40V80.00M215.64 76.40V80.00M216.01 76.40V80.00M216.12 76.40V80.00M216.12 76.40V80.00M216.73 76.40V80.00M216.97 76.40V80.00M217.14 76.40V80.00M217.49 76.40V80.00M218.25 76.40V80.00M220.03 76.40V80.00M220.14 76.40V80.00M220.57 76.40V80.00M220.74 76.40V80.00M221.22 76.40V80.00M221.28 76.40V80.00M221.39 76.40V80.00M221.44 76.40V80.00M222.37 76.40V80.00M222.61 76.40V80.00M223.43 76.40V80.00M224.40 76.40V80.00M225.23 76.40V80.00M225.85 76.40V80.00M226.63 76.40V80.00M227.09 76.40V80.00M227.52 76.40V80.00M227.88 76.40V80.00M228.61 76.40V80.00M229.23 76.40V80.00M229.41 76.40V80.00M229.70 76.40V80.00M229.74 76.40V80.00M230.10 76.40V80.00M231.98 76.40V80.00M232.22 76.40V80.00M232.34 76.40V80.00M233.34 76.40V80.00M233.48 76.40V80.00M233.84 76.40V80.00M234.37 76.40V80.00M234.76 76.40V80.00M236.61 76.40V80.00M237.39 76.40V80.00M237.44 76.40V80.00M237.85 76.40V80.00M238.18 76.40V80.00M238.35 76.40V80.00M239.46 76.40V80.00M239.50 76.40V80.00M240.28 76.40V80.00M240.35 76.40V80.00M240.42 76.40V80.00M240.45 76.40V80.00M241.81 76.40V80.00M242.83 76.40V80.00M243.58 76.40V80.00M243.71 76.40V80.00M244.99 76.40V80.00M245.94 76.40V80.00M246.08 76.40V80.00M246.46 76.40V80.00M247.24 76.40V80.00M247.95 76.40V80.00M248.47 76.40V80.00M249.32 76.40V80.00M249.59 76.40V80.00M249.62 76.40V80.00M250.64 76.40V80.00M250.86 76.40V80.00M251.16 76.40V80.00M251.39 76.40V80.00M251.77 76.40V80.00M254.84 76.40V80.00M256.10 76.40V80.00M256.39 76.40V80.00M256.81 76.40V80.00M257.38 76.40V80.00M257.53 76.40V80.00M257.54 76.40V80.00M257.62 76.40V80.00M258.60 76.40V80.00M258.74 76.40V80.00M258.77 76.40V80.00M258.80 76.40V80.00M259.43 76.40V80.00M260.50 76.40V80.00M262.41 76.40V80.00M265.38 76.40V80.00M269.86 76.40V80.00M269.90 76.40V80.00M270.31 76.40V80.00M270.89 76.40V80.00M271.23 76.40V80.00M271.39 76.40V80.00M273.66 76.40V80.00M273.91 76.40V80.00M275.24 76.40V80.00M277.53 76.40V80.00M277.87 76.40V80.00M278.47 76.40V80.00M281.38 76.40V80.00M281.82 76.40V80.00M283.01 76.40V80.00M285.65 76.40V80.00M287.37 76.40V80.00M289.62 76.40V80.00M290.04 76.40V80.00M291.20 76.40V80.00M291.29 76.40V80.00M291.89 76.40V80.00M292.19 76.40V80.00M292.67 76.40V80.00M293.25 76.40V80.00M294.73 76.40V80.00M295.04 76.40V80.00M296.74 76.40V80.00M296.93 76.40V80.00M297.20 76.40V80.00M297.52 76.40V80.00M298.07 76.40V80.00M300.28 76.40V80.00M301.90 76.40V80.00M303.00 76.40V80.00M303.19 76.40V80.00M304.02 76.40V80.00M305.64 76.40V80.00M307.52 76.40V80.00M308.83 76.40V80.00M309.86 76.40V80.00M311.61 76.40V80.00M311.99 76.40V80.00M312.86 76.40V80.00M313.14 76.40V80.00M313.24 76.40V80.00M315.71 76.40V80.00M316.03 76.40V80.00M316.61 76.40V80.00M316.65 76.40V80.00M318.30 76.40V80.00M319.08 76.40V80.00M319.31 76.40V80.00M320.20 76.40V80.00M320.50 76.40V80.00M322.72 76.40V80.00M323.31 76.40V80.00M326.29 76.40V80.00M327.93 76.40V80.00M328.27 76.40V80.00M328.50 76.40V80.00M329.29 76.40V80.00M329.77 76.40V80.00M330.04 76.40V80.00M330.19 76.40V80.00M330.48 76.40V80.00M330.67 76.40V80.00M330.81 76.40V80.00M331.32 76.40V80.00M331.79 76.40V80.00M335.97 76.40V80.00M336.24 76.40V80.00M336.99 76.40V80.00M339.54 76.40V80.00M339.91 76.40V80.00M340.58 76.40V80.00M342.50 76.40V80.00M344.84 76.40V80.00M345.61 76.40V80.00M345.82 76.40V80.00M346.66 76.40V80.00M346.82 76.40V80.00M347.32 76.40V80.00M348.15 76.40V80.00M349.34 76.40V80.00M350.52 76.40V80.00M352.22 76.40V80.00M353.02 76.40V80.00M357.11 76.40V80.00M357.23 76.40V80.00M357.90 76.40V80.00M358.99 76.40V80.00M361.70 76.40V80.00M362.42 76.40V80.00M362.53 76.40V80.00M362.88 76.40V80.00M363.53 76.40V80.00M364.14 76.40V80.00M364.56 76.40V80.00M365.25 76.40V80.00M365.52 76.40V80.00M367.21 76.40V80.00M367.39 76.40V80.00M368.14 76.40V80.00M368.80 76.40V80.00M369.29 76.40V80.00M370.45 76.40V80.00M372.43 76.40V80.00M372.79 76.40V80.00M373.24 76.40V80.00M373.51 76.40V80.00M374.89 76.40V80.00M375.31 76.40V80.00M379.89 76.40V80.00M380.92 76.40V80.00M383.00 76.40V80.00M383.81 76.40V80.00" stroke="#A3A500" stroke-width="0.55" stroke-opacity="1.00" fill="none"/>
<path d="M213.80 80.00V83.60M214.77 80.00V83.60M215.34 80.00V83.60M216.09 80.00V83.60M216.41 80.00V83.60M216.49 80.00V83.60M216.65 80.00V83.60M217.55 80.00V83.60M218.30 80.00V83.60M218.87 80.00V83.60M219.26 80.00V83.60M219.41 80.00V83.60M219.57 80.00V83.60M220.76 80.00V83.60M220.90 80.00V83.60M221.32 80.00V83.60M223.65 80.00V83.60M223.95 80.00V83.60M224.03 80.00V83.60M224.53 80.00V83.60M224.79 80.00V83.60M226.62 80.00V83.60M226.66 80.00V83.60M227.00 80.00V83.60M227.18 80.00V83.60M227.69 80.00V83.60M229.62 80.00V83.60M229.82 80.00V83.60M230.78 80.00V83.60M231.37 80.00V83.60M232.86 80.00V83.60M233.19 80.00V83.60M233.32 80.00V83.60M233.54 80.00V83.60M233.64 80.00V83.60M234.51 80.00V83.60M235.02 80.00V83.60M235.73 80.00V83.60M236.26 80.00V83.60M236.81 80.00V83.60M237.54 80.00V83.60M238.02 80.00V83.60M239.57 80.00V83.60M242.29 80.00V83.60M242.91 80.00V83.60M243.14 80.00V83.60M243.93 80.00V83.60M244.18 80.00V83.60M244.20 80.00V83.60M245.92 80.00V83.60M246.19 80.00V83.60M246.77 80.00V83.60M247.48 80.00V83.60M247.65 80.00V83.60M248.37 80.00V83.60M248.51 80.00V83.60M248.67 80.00V83.60M248.72 80.00V83.60M248.77 80.00V83.60M250.15 80.00V83.60M250.36 80.00V83.60M251.32 80.00V83.60M251.92 80.00V83.60M252.31 80.00V83.60M252.48 80.00V83.60M253.27 80.00V83.60M253.56 80.00V83.60M253.96 80.00V83.60M254.90 80.00V83.60M254.95 80.00V83.60M256.38 80.00V83.60M256.38 80.00V83.60M257.75 80.00V83.60M257.99 80.00V83.60M258.74 80.00V83.60M259.42 80.00V83.60M259.48 80.00V83.60M259.61 80.00V83.60M259.87 80.00V83.60M259.92 80.00V83.60M260.56 80.00V83.60M262.17 80.00V83.60M262.44 80.00V83.60M265.84 80.00V83.60M266.13 80.00V83.60M266.25 80.00V83.60M266.58 80.00V83.60M267.91 80.00V83.60M268.58 80.00V83.60M269.60 80.00V83.60M269.92 80.00V83.60M270.74 80.00V83.60M273.08 80.00V83.60M273.67 80.00V83.60M274.36 80.00V83.60M276.58 80.00V83.60M277.74 80.00V83.60M277.81 80.00V83.60M277.92 80.00V83.60M279.33 80.00V83.60M279.61 80.00V83.60M279.77 80.00V83.60M280.65 80.00V83.60M281.86 80.00V83.60M282.13 80.00V83.60M283.04 80.00V83.60M284.08 80.00V83.60M284.68 80.00V83.60M286.84 80.00V83.60M286.93 80.00V83.60M286.97 80.00V83.60M287.82 80.00V83.60M288.53 80.00V83.60M288.79 80.00V83.60M289.26 80.00V83.60M289.51 80.00V83.60M289.89 80.00V83.60M289.92 80.00V83.60M289.97 80.00V83.60M290.03 80.00V83.60M290.51 80.00V83.60M291.40 80.00V83.60M292.08 80.00V83.60M293.05 80.00V83.60M293.71 80.00V83.60M294.08 80.00V83.60M295.55 80.00V83.60M297.02 80.00V83.60M298.05 80.00V83.60M298.18 80.00V83.60M298.70 80.00V83.60M298.72 80.00V83.60M300.14 80.00V83.60M301.45 80.00V83.60M301.92 80.00V83.60M302.35 80.00V83.60M302.95 80.00V83.60M303.00 80.00V83.60M305.01 80.00V83.60M305.30 80.00V83.60M305.92 80.00V83.60M308.14 80.00V83.60M309.92 80.00V83.60M310.04 80.00V83.60M311.61 80.00V83.60M311.75 80.00V83.60M312.83 80.00V83.60M315.98 80.00V83.60M316.16 80.00V83.60M316.47 80.00V83.60M316.53 80.00V83.60M317.15 80.00V83.60M318.29 80.00V83.60M319.91 80.00V83.60M320.93 80.00V83.60M322.55 80.00V83.60M323.51 80.00V83.60M324.11 80.00V83.60M325.12 80.00V83.60M325.40 80.00V83.60M325.46 80.00V83.60M326.72 80.00V83.60M327.89 80.00V83.60M328.45 80.00V83.60M329.52 80.00V83.60M330.15 80.00V83.60M331.04 80.00V83.60M331.11 80.00V83.60M331.67 80.00V83.60M332.62 80.00V83.60M333.49 80.00V83.60M336.66 80.00V83.60M336.94 80.00V83.60M336.98 80.00V83.60M338.08 80.00V83.60M339.71 80.00V83.60M339.72 80.00V83.60M340.78 80.00V83.60M341.69 80.00V83.60M342.41 80.00V83.60M345.59 80.00V83.60M346.49 80.00V83.60M346.84 80.00V83.60M347.20 80.00V83.60M348.29 80.00V83.60M348.66 80.00V83.60M348.72 80.00V83.60M349.13 80.00V83.60M349.64 80.00V83.60M350.89 80.00V83.60M352.35 80.00V83.60M354.20 80.00V83.60M354.29 80.00V83.60M355.72 80.00V83.60M355.79 80.00V83.60M358.82 80.00V83.60M358.87 80.00V83.60M360.01 80.00V83.60M360.60 80.00V83.60M360.61 80.00V83.60M362.23 80.00V83.60M362.96 80.00V83.60M363.03 80.00V83.60M363.88 80.00V83.60M364.36 80.00V83.60M364.82 80.00V83.60M364.92 80.00V83.60M366.47 80.00V83.60M366.62 80.00V83.60M366.71 80.00V83.60M369.55 80.00V83.60M369.69 80.00V83.60M369.87 80.00V83.60M371.57 80.00V83.60M372.34 80.00V83.60M373.31 80.00V83.60M374.04 80.00V83.60M374.31 80.00V83.60M374.32 80.00V83.60M376.56 80.00V83.60M377.43 80.00V83.60M377.74 80.00V83.60M378.41 80.00V83.60M379.15 80.00V83.60M379.18 80.00V83.60M380.04 80.00V83.60M381.88 80.00V83.60M381.90 80.00V83.60M383.56 80.00V83.60M384.71 80.00V83.60" stroke="#F8766D" stroke-width="0.55" stroke-opacity="1.00" fill="none"/>
<polyline points="211.10,59.60 212.80,53.00 214.80,43.00 216.50,37.50 218.50,33.50 221.50,30.50 226.00,27.80 230.50,26.20 235.00,25.40 241.70,25.40 253.00,26.00 264.20,27.00 275.50,28.60 286.70,30.60 298.00,33.40 309.20,37.00 320.50,40.60 331.70,44.40 343.00,48.10 354.20,51.40 365.50,55.40 376.70,58.70 384.60,60.40 385.70,59.60" fill="none" stroke="#F8766D" stroke-width="1.05" stroke-linejoin="round" stroke-linecap="round"/>
<polyline points="211.10,59.60 212.60,54.00 214.60,42.50 216.40,37.00 218.30,33.00 221.50,30.00 226.00,27.40 230.50,25.90 235.00,25.00 244.00,25.10 253.00,25.80 264.20,26.90 275.50,28.60 286.70,30.30 298.00,32.30 309.20,36.20 320.50,39.60 331.70,42.90 343.00,45.60 354.20,49.00 365.50,52.90 376.70,56.70 385.70,59.60" fill="none" stroke="#A3A500" stroke-width="1.05" stroke-linejoin="round" stroke-linecap="round"/>
<polyline points="211.10,59.60 213.50,50.00 215.00,44.00 216.10,40.50 218.80,34.20 221.50,32.00 226.00,29.70 230.50,27.20 235.00,26.00 241.70,25.80 253.00,26.80 264.20,27.60 275.50,30.20 286.70,33.00 298.00,35.50 309.20,38.90 320.50,42.20 331.70,46.20 343.00,49.70 354.20,53.70 365.50,57.60 376.70,61.00 381.20,62.10 384.00,61.80 385.70,60.20" fill="none" stroke="#1E98CC" stroke-width="1.05" stroke-linejoin="round" stroke-linecap="round"/>
<polyline points="211.10,59.60 212.40,55.00 214.30,42.00 216.10,36.00 217.90,31.50 219.50,29.50 221.50,27.90 226.00,25.70 230.50,24.80 235.00,24.30 244.00,24.50 253.00,25.10 264.20,26.20 275.50,27.90 286.70,29.60 298.00,31.60 309.20,35.50 320.50,38.90 331.70,42.20 343.00,44.90 354.20,48.30 365.50,52.20 376.70,56.00 385.70,59.60" fill="none" stroke="#0FA27A" stroke-width="1.05" stroke-linejoin="round" stroke-linecap="round"/>
<polyline points="211.10,59.60 212.50,52.00 213.40,42.00 214.30,36.50 215.20,31.50 216.60,27.00 217.90,22.50 219.70,18.00 222.60,15.80 226.00,15.00 228.20,14.40 230.50,12.70 232.20,12.20 236.10,13.30 241.70,13.90 245.10,13.30 248.50,13.90 253.00,15.30 264.20,18.90 275.50,22.00 286.70,25.20 298.00,28.50 309.20,32.00 320.50,35.60 331.70,39.40 343.00,43.80 354.20,47.80 365.50,51.80 376.70,55.70 385.70,59.60" fill="none" stroke="#B062BA" stroke-width="1.05" stroke-linejoin="round" stroke-linecap="round"/>
<line x1="296.80" y1="5.30" x2="304.10" y2="5.30" stroke="#ce7a74" stroke-width="0.85"/>
<text x="305.50" y="7.00" font-size="2.80" text-anchor="start" font-weight="normal" fill="#222" stroke="#222" stroke-width="0.07">GOBP_ADAPTIVE_IMMUNE_RESPONSE</text>
<line x1="296.80" y1="13.55" x2="304.10" y2="13.55" stroke="#97982d" stroke-width="0.85"/>
<text x="305.50" y="15.25" font-size="2.80" text-anchor="start" font-weight="normal" fill="#222" stroke="#222" stroke-width="0.07">GOBP_ANTIGEN_RECEPTOR_MEDIATED_SIGNALING_PATHWAY</text>
<line x1="296.80" y1="21.80" x2="304.10" y2="21.80" stroke="#2da97e" stroke-width="0.85"/>
<text x="305.50" y="23.50" font-size="2.80" text-anchor="start" font-weight="normal" fill="#222" stroke="#222" stroke-width="0.07">GOBP_B_CELL_ACTIVATION</text>
<line x1="296.80" y1="30.05" x2="304.10" y2="30.05" stroke="#2d9fcd" stroke-width="0.85"/>
<text x="305.50" y="31.75" font-size="2.80" text-anchor="start" font-weight="normal" fill="#222" stroke="#222" stroke-width="0.07">GOBP_B_CELL_MEDIATED_IMMUNITY</text>
<line x1="296.80" y1="38.30" x2="304.10" y2="38.30" stroke="#c372cb" stroke-width="0.85"/>
<text x="305.50" y="40.00" font-size="2.80" text-anchor="start" font-weight="normal" fill="#222" stroke="#222" stroke-width="0.07">GOBP_B_CELL_RECEPTOR_SIGNALING_PATHWAY</text>
<line x1="211.10" y1="9.90" x2="211.10" y2="122.45" stroke="#555" stroke-width="0.75"/>
<path d="M211.00 65.60V69.20M211.60 65.60V69.20" stroke="#E76BF3" stroke-width="0.7" stroke-opacity="1.00" fill="none"/>
<path d="M211.00 69.20V72.80M211.60 69.20V72.80" stroke="#00B0F6" stroke-width="0.7" stroke-opacity="1.00" fill="none"/>
<path d="M211.00 72.80V76.40M211.60 72.80V76.40" stroke="#00BF7D" stroke-width="0.7" stroke-opacity="1.00" fill="none"/>
<path d="M211.00 76.40V80.00M211.60 76.40V80.00" stroke="#A3A500" stroke-width="0.7" stroke-opacity="1.00" fill="none"/>
<path d="M211.00 80.00V83.60M211.60 80.00V83.60" stroke="#F8766D" stroke-width="0.7" stroke-opacity="1.00" fill="none"/>
<line x1="211.10" y1="122.45" x2="386.00" y2="122.45" stroke="#4d4d4d" stroke-width="0.7"/>
<line x1="210.10" y1="21.00" x2="211.10" y2="21.00" stroke="#666" stroke-width="0.5"/>
<text x="208.30" y="22.80" font-size="2.70" text-anchor="end" font-weight="normal" fill="#505050">0.6</text>
<line x1="210.10" y1="33.90" x2="211.10" y2="33.90" stroke="#666" stroke-width="0.5"/>
<text x="208.30" y="35.70" font-size="2.70" text-anchor="end" font-weight="normal" fill="#505050">0.4</text>
<line x1="210.10" y1="46.80" x2="211.10" y2="46.80" stroke="#666" stroke-width="0.5"/>
<text x="208.30" y="48.60" font-size="2.70" text-anchor="end" font-weight="normal" fill="#505050">0.2</text>
<line x1="210.10" y1="59.60" x2="211.10" y2="59.60" stroke="#666" stroke-width="0.5"/>
<text x="208.30" y="61.40" font-size="2.70" text-anchor="end" font-weight="normal" fill="#505050">0.0</text>
<line x1="210.10" y1="96.80" x2="211.10" y2="96.80" stroke="#666" stroke-width="0.5"/>
<text x="208.30" y="98.60" font-size="2.70" text-anchor="end" font-weight="normal" fill="#505050">1</text>
<line x1="210.10" y1="108.00" x2="211.10" y2="108.00" stroke="#666" stroke-width="0.5"/>
<text x="208.30" y="109.80" font-size="2.70" text-anchor="end" font-weight="normal" fill="#505050">0</text>
<line x1="210.10" y1="119.80" x2="211.10" y2="119.80" stroke="#666" stroke-width="0.5"/>
<text x="208.30" y="121.60" font-size="2.70" text-anchor="end" font-weight="normal" fill="#505050">-1</text>
<line x1="269.71" y1="122.45" x2="269.71" y2="123.45" stroke="#666" stroke-width="0.5"/>
<text x="269.71" y="126.65" font-size="2.55" text-anchor="middle" font-weight="normal" fill="#555">5000</text>
<line x1="328.33" y1="122.45" x2="328.33" y2="123.45" stroke="#666" stroke-width="0.5"/>
<text x="328.33" y="126.65" font-size="2.55" text-anchor="middle" font-weight="normal" fill="#555">10000</text>
<text x="202.20" y="39.00" font-size="3.85" text-anchor="middle" font-weight="normal" fill="#3a3a3a" transform="rotate(-90 202.20 39.00)" stroke="#3a3a3a" stroke-width="0.04">Running Enrichment Score</text>
<text x="202.40" y="105.10" font-size="3.80" text-anchor="middle" font-weight="normal" fill="#3a3a3a" transform="rotate(-90 202.40 105.10)" stroke="#3a3a3a" stroke-width="0.04">Ranked List Metric</text>
<text x="0.40" y="143.20" font-size="8.20" text-anchor="start" font-weight="bold" fill="#000">C</text>
<text x="16.00" y="146.90" font-size="4.95" text-anchor="start" font-weight="normal" fill="#2a2a2a" stroke="#2a2a2a" stroke-width="0.12">Enriched in low risk group</text>
<line x1="45.27" y1="149.20" x2="45.27" y2="204.00" stroke="#efefef" stroke-width="0.6"/>
<line x1="45.27" y1="228.00" x2="45.27" y2="262.10" stroke="#efefef" stroke-width="0.6"/>
<line x1="74.24" y1="149.20" x2="74.24" y2="204.00" stroke="#efefef" stroke-width="0.6"/>
<line x1="74.24" y1="228.00" x2="74.24" y2="262.10" stroke="#efefef" stroke-width="0.6"/>
<line x1="103.21" y1="149.20" x2="103.21" y2="204.00" stroke="#efefef" stroke-width="0.6"/>
<line x1="103.21" y1="228.00" x2="103.21" y2="262.10" stroke="#efefef" stroke-width="0.6"/>
<line x1="132.18" y1="149.20" x2="132.18" y2="204.00" stroke="#efefef" stroke-width="0.6"/>
<line x1="132.18" y1="228.00" x2="132.18" y2="262.10" stroke="#efefef" stroke-width="0.6"/>
<line x1="161.16" y1="149.20" x2="161.16" y2="204.00" stroke="#efefef" stroke-width="0.6"/>
<line x1="161.16" y1="228.00" x2="161.16" y2="262.10" stroke="#efefef" stroke-width="0.6"/>
<polygon points="16.90,247.70 16.70,239.20 17.20,240.90 17.90,242.50 18.90,243.50 20.30,244.40 22.30,245.00 25.30,245.50 30.30,245.95 38.30,246.35 51.30,246.70 76.30,247.05 116.30,247.35 159.20,247.65 175.20,248.00 183.20,248.70 187.20,249.70 188.40,250.70 188.40,247.70" fill="#c6c6c6" stroke="none"/>
<polyline points="16.70,239.20 17.20,240.90 17.90,242.50 18.90,243.50 20.30,244.40 22.30,245.00 25.30,245.50 30.30,245.95 38.30,246.35 51.30,246.70 76.30,247.05 116.30,247.35 159.20,247.65 175.20,248.00 183.20,248.70 187.20,249.70 188.40,250.70" fill="none" stroke="#8a8a8a" stroke-width="0.5"/>
<line x1="188.70" y1="250.70" x2="188.70" y2="260.00" stroke="#d4d4d4" stroke-width="0.6"/>
<line x1="16.30" y1="247.70" x2="189.20" y2="247.70" stroke="#9a9a9a" stroke-width="0.6"/>
<path d="M18.50 205.40V209.00M27.50 205.40V209.00M34.30 205.40V209.00M48.90 205.40V209.00M105.60 205.40V209.00M106.80 205.40V209.00M122.50 205.40V209.00M123.60 205.40V209.00M127.00 205.40V209.00M148.40 205.40V209.00M150.70 205.40V209.00M152.90 205.40V209.00M155.20 205.40V209.00M158.60 205.40V209.00M162.00 205.40V209.00M165.30 205.40V209.00M167.60 205.40V209.00M172.42 205.40V209.00M173.02 205.40V209.00M174.24 205.40V209.00M174.94 205.40V209.00M175.40 205.40V209.00M175.60 205.40V209.00M176.05 205.40V209.00M177.56 205.40V209.00M178.46 205.40V209.00M179.55 205.40V209.00M180.39 205.40V209.00M180.98 205.40V209.00M181.15 205.40V209.00M181.16 205.40V209.00M183.79 205.40V209.00M184.84 205.40V209.00M185.61 205.40V209.00M185.84 205.40V209.00M185.90 205.40V209.00M185.91 205.40V209.00" stroke="#E76BF3" stroke-width="0.55" stroke-opacity="1.00" fill="none"/>
<path d="M38.80 209.00V212.60M69.10 209.00V212.60M131.50 209.00V212.60M137.20 209.00V212.60M149.50 209.00V212.60M153.00 209.00V212.60M157.00 209.00V212.60M160.50 209.00V212.60M164.00 209.00V212.60M167.60 209.00V212.60M172.17 209.00V212.60M172.29 209.00V212.60M173.30 209.00V212.60M173.57 209.00V212.60M173.57 209.00V212.60M173.91 209.00V212.60M173.94 209.00V212.60M174.06 209.00V212.60M174.78 209.00V212.60M175.25 209.00V212.60M176.62 209.00V212.60M177.50 209.00V212.60M177.64 209.00V212.60M177.78 209.00V212.60M178.27 209.00V212.60M179.50 209.00V212.60M181.27 209.00V212.60M181.57 209.00V212.60M182.37 209.00V212.60M182.61 209.00V212.60M185.16 209.00V212.60M185.95 209.00V212.60" stroke="#00B0F6" stroke-width="0.55" stroke-opacity="1.00" fill="none"/>
<path d="M62.40 212.60V216.20M79.30 212.60V216.20M154.00 212.60V216.20M157.50 212.60V216.20M161.00 212.60V216.20M163.00 212.60V216.20M165.50 212.60V216.20M167.60 212.60V216.20M168.01 212.60V216.20M168.17 212.60V216.20M169.39 212.60V216.20M169.47 212.60V216.20M169.80 212.60V216.20M170.01 212.60V216.20M170.17 212.60V216.20M170.28 212.60V216.20M171.63 212.60V216.20M171.85 212.60V216.20M173.46 212.60V216.20M174.68 212.60V216.20M176.93 212.60V216.20M177.16 212.60V216.20M177.41 212.60V216.20M180.96 212.60V216.20M181.15 212.60V216.20M181.59 212.60V216.20M183.06 212.60V216.20M183.17 212.60V216.20M183.18 212.60V216.20M183.87 212.60V216.20M184.20 212.60V216.20M185.00 212.60V216.20M185.16 212.60V216.20M185.60 212.60V216.20" stroke="#00BF7D" stroke-width="0.55" stroke-opacity="1.00" fill="none"/>
<path d="M25.30 216.20V219.80M28.60 216.20V219.80M34.30 216.20V219.80M41.00 216.20V219.80M47.80 216.20V219.80M105.60 216.20V219.80M118.00 216.20V219.80M121.40 216.20V219.80M123.60 216.20V219.80M152.00 216.20V219.80M155.00 216.20V219.80M172.84 216.20V219.80M174.98 216.20V219.80M176.44 216.20V219.80M176.82 216.20V219.80M176.95 216.20V219.80M178.82 216.20V219.80M179.12 216.20V219.80M179.94 216.20V219.80M180.05 216.20V219.80M180.45 216.20V219.80M181.13 216.20V219.80M181.72 216.20V219.80M181.87 216.20V219.80M182.12 216.20V219.80M182.17 216.20V219.80M182.43 216.20V219.80M182.43 216.20V219.80M183.77 216.20V219.80M185.07 216.20V219.80M185.55 216.20V219.80M186.25 216.20V219.80M186.54 216.20V219.80M187.10 216.20V219.80M187.46 216.20V219.80" stroke="#A3A500" stroke-width="0.55" stroke-opacity="1.00" fill="none"/>
<path d="M21.90 219.80V223.40M23.00 219.80V223.40M39.90 219.80V223.40M41.00 219.80V223.40M42.20 219.80V223.40M43.30 219.80V223.40M60.20 219.80V223.40M64.70 219.80V223.40M74.80 219.80V223.40M91.70 219.80V223.40M95.10 219.80V223.40M110.00 219.80V223.40M113.50 219.80V223.40M133.80 219.80V223.40M136.00 219.80V223.40M139.40 219.80V223.40M147.30 219.80V223.40M163.00 219.80V223.40M165.30 219.80V223.40M167.60 219.80V223.40M172.98 219.80V223.40M173.38 219.80V223.40M173.51 219.80V223.40M174.48 219.80V223.40M176.08 219.80V223.40M176.39 219.80V223.40M176.67 219.80V223.40M176.90 219.80V223.40M177.84 219.80V223.40M178.79 219.80V223.40M180.19 219.80V223.40M180.46 219.80V223.40M180.83 219.80V223.40M181.37 219.80V223.40M181.42 219.80V223.40M181.77 219.80V223.40M182.19 219.80V223.40M184.04 219.80V223.40M184.42 219.80V223.40M184.81 219.80V223.40M185.42 219.80V223.40M185.49 219.80V223.40M186.11 219.80V223.40M186.38 219.80V223.40M186.94 219.80V223.40M187.18 219.80V223.40" stroke="#F8766D" stroke-width="0.55" stroke-opacity="1.00" fill="none"/>
<polyline points="16.50,155.60 18.50,152.90 25.30,154.00 30.00,154.80 36.60,156.30 44.00,157.40 51.50,158.20 56.00,157.60 58.10,156.70 72.00,161.40 75.00,162.10 83.20,165.40 94.50,169.00 105.70,171.80 112.00,173.90 117.00,175.00 134.50,179.50 157.00,185.20 161.20,186.80 172.50,189.80 176.40,191.50 178.20,190.60 180.50,188.30 182.60,184.50 184.00,178.00 185.60,170.00 187.30,162.00 188.60,155.60" fill="none" stroke="#F8766D" stroke-width="0.95" stroke-linejoin="round" stroke-linecap="round"/>
<polyline points="16.50,155.80 39.00,162.60 62.40,169.80 62.50,167.80 69.50,169.60 79.30,173.20 79.40,172.00 86.00,173.60 94.50,176.60 105.70,180.00 112.00,182.80 123.20,186.60 134.50,190.00 145.70,193.19 157.00,196.20 161.20,197.70 170.20,200.60 175.90,200.30 178.10,196.91 182.00,189.27 183.00,184.86 183.90,180.44 184.30,175.98 186.10,171.64 187.50,163.77 188.60,155.47" fill="none" stroke="#00BF7D" stroke-width="0.95" stroke-linejoin="round" stroke-linecap="round"/>
<polyline points="16.50,155.60 39.00,162.40 39.10,160.40 62.40,166.40 69.50,167.60 79.30,169.90 86.00,172.00 94.50,175.60 105.70,179.20 112.00,181.40 123.20,184.40 134.50,187.70 145.70,190.60 157.00,193.40 161.20,195.00 172.50,197.80 177.00,196.90 180.40,193.50 183.70,190.70 186.00,186.70 187.50,172.00 188.60,155.60" fill="none" stroke="#00B0F6" stroke-width="0.95" stroke-linejoin="round" stroke-linecap="round"/>
<polyline points="16.50,155.60 18.50,153.60 25.30,154.50 30.00,155.40 41.20,157.60 52.50,160.40 63.70,163.20 72.00,166.50 75.00,166.90 83.20,169.90 94.50,173.20 105.70,176.10 112.00,177.10 117.00,178.60 134.50,183.20 149.00,187.20 157.00,190.00 161.20,191.30 164.00,191.80 172.50,194.60 176.50,195.00 178.10,193.50 180.40,192.40 182.60,191.20 183.70,188.40 185.50,180.00 187.50,165.00 188.60,155.60" fill="none" stroke="#E76BF3" stroke-width="0.95" stroke-linejoin="round" stroke-linecap="round"/>
<polyline points="16.50,155.60 18.50,153.80 25.30,154.50 32.80,155.30 34.30,152.10 35.60,152.00 46.90,153.10 58.10,155.90 72.00,160.60 75.00,161.30 83.20,164.60 94.50,168.20 105.70,171.00 112.00,173.10 117.00,174.20 134.50,178.70 157.00,184.40 161.20,186.00 172.50,189.00 176.40,190.70 179.20,189.60 181.50,186.70 183.20,182.20 183.90,176.50 185.20,172.90 187.00,163.50 188.60,155.60" fill="none" stroke="#A3A500" stroke-width="0.95" stroke-linejoin="round" stroke-linecap="round"/>
<line x1="104.10" y1="145.20" x2="111.40" y2="145.20" stroke="#ce7a74" stroke-width="0.85"/>
<text x="112.80" y="146.90" font-size="2.80" text-anchor="start" font-weight="normal" fill="#222" stroke="#222" stroke-width="0.07">KEGG_COMPLEMENT_AND_COAGULATION</text>
<line x1="104.10" y1="153.45" x2="111.40" y2="153.45" stroke="#97982d" stroke-width="0.85"/>
<text x="112.80" y="155.15" font-size="2.80" text-anchor="start" font-weight="normal" fill="#222" stroke="#222" stroke-width="0.07">KEGG_DRUG_METABOLISM_CYTOCHROME_P450</text>
<line x1="104.10" y1="161.70" x2="111.40" y2="161.70" stroke="#2da97e" stroke-width="0.85"/>
<text x="112.80" y="163.40" font-size="2.80" text-anchor="start" font-weight="normal" fill="#222" stroke="#222" stroke-width="0.07">KEGG_FATTY_ACID_METABOLISM</text>
<line x1="104.10" y1="169.95" x2="111.40" y2="169.95" stroke="#2d9fcd" stroke-width="0.85"/>
<text x="112.80" y="171.65" font-size="2.80" text-anchor="start" font-weight="normal" fill="#222" stroke="#222" stroke-width="0.07">KEGG_GLYCINE_SERINE_AND_THREONINE</text>
<line x1="104.10" y1="178.20" x2="111.40" y2="178.20" stroke="#c372cb" stroke-width="0.85"/>
<text x="112.80" y="179.90" font-size="2.80" text-anchor="start" font-weight="normal" fill="#222" stroke="#222" stroke-width="0.07">KEGG_RETINOL_METABOLISM</text>
<line x1="16.30" y1="149.20" x2="16.30" y2="262.10" stroke="#555" stroke-width="0.75"/>
<line x1="16.30" y1="262.10" x2="189.20" y2="262.10" stroke="#4d4d4d" stroke-width="0.7"/>
<line x1="15.30" y1="155.60" x2="16.30" y2="155.60" stroke="#666" stroke-width="0.5"/>
<text x="14.10" y="157.40" font-size="2.70" text-anchor="end" font-weight="normal" fill="#505050">0.0</text>
<line x1="15.30" y1="167.30" x2="16.30" y2="167.30" stroke="#666" stroke-width="0.5"/>
<text x="14.10" y="169.10" font-size="2.70" text-anchor="end" font-weight="normal" fill="#505050">-0.2</text>
<line x1="15.30" y1="178.90" x2="16.30" y2="178.90" stroke="#666" stroke-width="0.5"/>
<text x="14.10" y="180.70" font-size="2.70" text-anchor="end" font-weight="normal" fill="#505050">-0.4</text>
<line x1="15.30" y1="190.50" x2="16.30" y2="190.50" stroke="#666" stroke-width="0.5"/>
<text x="14.10" y="192.30" font-size="2.70" text-anchor="end" font-weight="normal" fill="#505050">-0.6</text>
<line x1="15.30" y1="202.00" x2="16.30" y2="202.00" stroke="#666" stroke-width="0.5"/>
<text x="14.10" y="203.80" font-size="2.70" text-anchor="end" font-weight="normal" fill="#505050">-0.8</text>
<line x1="15.30" y1="236.40" x2="16.30" y2="236.40" stroke="#666" stroke-width="0.5"/>
<text x="14.10" y="238.20" font-size="2.70" text-anchor="end" font-weight="normal" fill="#505050">1</text>
<line x1="15.30" y1="248.10" x2="16.30" y2="248.10" stroke="#666" stroke-width="0.5"/>
<text x="14.10" y="249.90" font-size="2.70" text-anchor="end" font-weight="normal" fill="#505050">0</text>
<line x1="15.30" y1="260.00" x2="16.30" y2="260.00" stroke="#666" stroke-width="0.5"/>
<text x="14.10" y="261.80" font-size="2.70" text-anchor="end" font-weight="normal" fill="#505050">-1</text>
<line x1="74.24" y1="262.10" x2="74.24" y2="263.10" stroke="#666" stroke-width="0.5"/>
<text x="74.24" y="266.30" font-size="2.55" text-anchor="middle" font-weight="normal" fill="#555">5000</text>
<line x1="132.18" y1="262.10" x2="132.18" y2="263.10" stroke="#666" stroke-width="0.5"/>
<text x="132.18" y="266.30" font-size="2.55" text-anchor="middle" font-weight="normal" fill="#555">10000</text>
<text x="5.40" y="178.60" font-size="3.85" text-anchor="middle" font-weight="normal" fill="#3a3a3a" transform="rotate(-90 5.40 178.60)" stroke="#3a3a3a" stroke-width="0.04">Running Enrichment Score</text>
<text x="5.70" y="245.10" font-size="3.80" text-anchor="middle" font-weight="normal" fill="#3a3a3a" transform="rotate(-90 5.70 245.10)" stroke="#3a3a3a" stroke-width="0.04">Ranked List Metric</text>
<text x="197.80" y="143.20" font-size="8.20" text-anchor="start" font-weight="bold" fill="#000">D</text>
<text x="213.00" y="146.90" font-size="4.95" text-anchor="start" font-weight="normal" fill="#2a2a2a" stroke="#2a2a2a" stroke-width="0.12">Enriched in low risk group</text>
<line x1="241.82" y1="149.80" x2="241.82" y2="204.00" stroke="#efefef" stroke-width="0.6"/>
<line x1="241.82" y1="228.00" x2="241.82" y2="262.10" stroke="#efefef" stroke-width="0.6"/>
<line x1="270.84" y1="149.80" x2="270.84" y2="204.00" stroke="#efefef" stroke-width="0.6"/>
<line x1="270.84" y1="228.00" x2="270.84" y2="262.10" stroke="#efefef" stroke-width="0.6"/>
<line x1="299.86" y1="149.80" x2="299.86" y2="204.00" stroke="#efefef" stroke-width="0.6"/>
<line x1="299.86" y1="228.00" x2="299.86" y2="262.10" stroke="#efefef" stroke-width="0.6"/>
<line x1="328.89" y1="149.80" x2="328.89" y2="204.00" stroke="#efefef" stroke-width="0.6"/>
<line x1="328.89" y1="228.00" x2="328.89" y2="262.10" stroke="#efefef" stroke-width="0.6"/>
<line x1="357.91" y1="149.80" x2="357.91" y2="204.00" stroke="#efefef" stroke-width="0.6"/>
<line x1="357.91" y1="228.00" x2="357.91" y2="262.10" stroke="#efefef" stroke-width="0.6"/>
<polygon points="213.40,248.00 213.20,239.50 213.70,241.20 214.40,242.80 215.40,243.80 216.80,244.70 218.80,245.30 221.80,245.80 226.80,246.25 234.80,246.65 247.80,247.00 272.80,247.35 312.80,247.65 356.00,247.95 372.00,248.30 380.00,249.00 384.00,250.00 385.20,251.00 385.20,248.00" fill="#c6c6c6" stroke="none"/>
<polyline points="213.20,239.50 213.70,241.20 214.40,242.80 215.40,243.80 216.80,244.70 218.80,245.30 221.80,245.80 226.80,246.25 234.80,246.65 247.80,247.00 272.80,247.35 312.80,247.65 356.00,247.95 372.00,248.30 380.00,249.00 384.00,250.00 385.20,251.00" fill="none" stroke="#8a8a8a" stroke-width="0.5"/>
<line x1="385.50" y1="251.00" x2="385.50" y2="260.00" stroke="#d4d4d4" stroke-width="0.6"/>
<line x1="212.80" y1="248.00" x2="386.00" y2="248.00" stroke="#9a9a9a" stroke-width="0.6"/>
<path d="M230.00 205.60V209.20M268.30 205.60V209.20M375.50 205.60V209.20M377.70 205.60V209.20M380.00 205.60V209.20M382.20 205.60V209.20M384.50 205.60V209.20" stroke="#E76BF3" stroke-width="0.55" stroke-opacity="1.00" fill="none"/>
<path d="M333.80 209.20V212.80M337.00 209.20V212.80M340.50 209.20V212.80M342.70 209.20V212.80M346.00 209.20V212.80M348.40 209.20V212.80M350.60 209.20V212.80M353.71 209.20V212.80M354.28 209.20V212.80M355.69 209.20V212.80M356.22 209.20V212.80M356.33 209.20V212.80M356.57 209.20V212.80M356.60 209.20V212.80M357.64 209.20V212.80M357.96 209.20V212.80M361.19 209.20V212.80M361.25 209.20V212.80M362.45 209.20V212.80M364.89 209.20V212.80M365.39 209.20V212.80M365.43 209.20V212.80M366.35 209.20V212.80M367.08 209.20V212.80M367.22 209.20V212.80M367.40 209.20V212.80M367.84 209.20V212.80M368.55 209.20V212.80M368.61 209.20V212.80M368.73 209.20V212.80M368.75 209.20V212.80M369.80 209.20V212.80M369.86 209.20V212.80M371.04 209.20V212.80M371.08 209.20V212.80M371.64 209.20V212.80M372.65 209.20V212.80" stroke="#00B0F6" stroke-width="0.55" stroke-opacity="1.00" fill="none"/>
<path d="M248.00 212.80V216.40M253.70 212.80V216.40M281.80 212.80V216.40M296.50 212.80V216.40M299.80 212.80V216.40M322.50 212.80V216.40M325.90 212.80V216.40M333.80 212.80V216.40M340.50 212.80V216.40M347.30 212.80V216.40M354.00 212.80V216.40M358.60 212.80V216.40M362.00 212.80V216.40M365.11 212.80V216.40M365.41 212.80V216.40M365.44 212.80V216.40M365.49 212.80V216.40M366.43 212.80V216.40M367.57 212.80V216.40M368.28 212.80V216.40M368.61 212.80V216.40M368.64 212.80V216.40M368.68 212.80V216.40M369.54 212.80V216.40M370.61 212.80V216.40M371.96 212.80V216.40M373.34 212.80V216.40M373.99 212.80V216.40M374.72 212.80V216.40M375.55 212.80V216.40M375.72 212.80V216.40M376.17 212.80V216.40M376.52 212.80V216.40M377.15 212.80V216.40M378.30 212.80V216.40M378.36 212.80V216.40M379.72 212.80V216.40" stroke="#00BF7D" stroke-width="0.55" stroke-opacity="1.00" fill="none"/>
<path d="M219.90 216.40V220.00M322.50 216.40V220.00M325.90 216.40V220.00M374.23 216.40V220.00M374.46 216.40V220.00M375.73 216.40V220.00M376.11 216.40V220.00M378.47 216.40V220.00M379.19 216.40V220.00M379.21 216.40V220.00M379.44 216.40V220.00M379.55 216.40V220.00M379.98 216.40V220.00M380.56 216.40V220.00M382.06 216.40V220.00M382.35 216.40V220.00M383.06 216.40V220.00M383.52 216.40V220.00M384.23 216.40V220.00" stroke="#A3A500" stroke-width="0.55" stroke-opacity="1.00" fill="none"/>
<path d="M333.80 220.00V223.60M336.50 220.00V223.60M340.00 220.00V223.60M343.50 220.00V223.60M347.00 220.00V223.60M350.50 220.00V223.60M353.19 220.00V223.60M353.63 220.00V223.60M353.75 220.00V223.60M354.51 220.00V223.60M354.58 220.00V223.60M355.03 220.00V223.60M355.32 220.00V223.60M355.41 220.00V223.60M355.51 220.00V223.60M356.37 220.00V223.60M356.80 220.00V223.60M357.05 220.00V223.60M357.84 220.00V223.60M358.55 220.00V223.60M360.01 220.00V223.60M361.14 220.00V223.60M361.30 220.00V223.60M361.71 220.00V223.60M361.78 220.00V223.60M363.26 220.00V223.60M364.04 220.00V223.60M364.65 220.00V223.60M366.27 220.00V223.60M366.44 220.00V223.60M367.86 220.00V223.60M367.91 220.00V223.60M371.09 220.00V223.60M371.53 220.00V223.60M372.71 220.00V223.60M373.62 220.00V223.60M373.85 220.00V223.60M374.27 220.00V223.60" stroke="#F8766D" stroke-width="0.55" stroke-opacity="1.00" fill="none"/>
<polyline points="212.80,156.90 225.00,160.60 230.40,162.00 238.50,164.20 248.40,166.90 261.20,170.70 272.50,174.60 283.70,178.60 295.00,182.20 306.20,185.60 317.50,189.00 331.20,193.30 333.50,194.20 336.00,190.50 340.20,189.60 348.10,189.00 351.50,188.40 360.50,187.40 363.70,186.60 366.50,186.50 368.60,183.00 370.60,176.00 371.70,168.50 373.60,160.60 375.60,157.60 378.40,154.60 383.30,155.40 385.50,156.90" fill="none" stroke="#F8766D" stroke-width="0.95" stroke-linejoin="round" stroke-linecap="round"/>
<polyline points="212.80,156.90 225.00,161.10 230.40,162.50 238.50,164.70 248.40,167.30 248.60,166.20 252.00,167.10 261.00,169.20 272.50,171.60 283.70,173.90 295.00,176.30 306.20,178.50 317.50,181.30 325.60,182.20 336.90,184.40 348.10,187.20 353.70,188.90 360.50,190.50 368.90,192.30 372.00,190.40 374.70,186.70 376.30,182.50 377.80,177.30 379.40,172.00 380.50,167.00 382.60,164.40 383.60,160.70 384.10,157.60 385.50,156.90" fill="none" stroke="#00BF7D" stroke-width="0.95" stroke-linejoin="round" stroke-linecap="round"/>
<polyline points="212.80,156.90 225.00,161.00 230.40,162.40 238.50,164.60 248.40,167.30 250.00,167.90 261.20,171.10 272.50,175.00 283.70,179.00 295.00,182.60 306.20,186.00 317.50,189.40 320.00,190.30 331.20,194.00 333.50,195.00 338.00,191.70 340.20,190.60 348.10,190.10 353.70,189.60 358.00,188.50 366.00,187.40 368.10,183.40 370.10,176.30 371.20,168.20 373.20,160.10 375.20,157.10 376.50,156.20 378.20,154.00 381.50,154.50 383.30,155.00 384.30,156.00 385.50,156.90" fill="none" stroke="#00B0F6" stroke-width="0.95" stroke-linejoin="round" stroke-linecap="round"/>
<polyline points="212.80,156.90 219.20,158.90 229.50,161.50 230.40,159.20 238.50,161.00 248.40,165.10 250.00,165.40 261.20,168.10 272.50,171.00 283.70,174.30 295.00,177.80 306.20,181.30 317.50,184.70 328.70,188.10 342.50,192.30 353.70,195.80 366.20,199.80 372.80,201.70 375.40,200.40 379.30,198.50 382.00,196.50 383.20,191.20 383.60,182.50 384.70,172.00 385.20,160.00 385.50,156.90" fill="none" stroke="#E76BF3" stroke-width="0.95" stroke-linejoin="round" stroke-linecap="round"/>
<polyline points="212.80,156.90 219.20,158.40 219.80,152.20 221.50,152.30 225.00,153.80 230.50,155.20 243.00,158.80 250.00,161.20 261.20,164.60 272.50,167.90 283.70,171.90 295.00,176.60 306.20,180.20 317.50,183.60 328.70,186.60 342.50,190.10 353.70,193.20 366.20,196.50 372.80,197.80 378.00,196.50 380.50,194.10 381.50,192.00 383.50,170.00 384.80,160.00 385.50,156.90" fill="none" stroke="#A3A500" stroke-width="0.95" stroke-linejoin="round" stroke-linecap="round"/>
<line x1="287.10" y1="145.40" x2="294.40" y2="145.40" stroke="#ce7a74" stroke-width="0.85"/>
<text x="296.40" y="147.10" font-size="2.80" text-anchor="start" font-weight="normal" fill="#222" stroke="#222" stroke-width="0.07">GOBP_MITOCHONDRIAL_ELECTRON_TRANSPORT_NADH_TO_UBIQUINONE</text>
<line x1="287.10" y1="153.43" x2="294.40" y2="153.43" stroke="#97982d" stroke-width="0.85"/>
<text x="296.40" y="155.13" font-size="2.80" text-anchor="start" font-weight="normal" fill="#222" stroke="#222" stroke-width="0.07">GOCC_HIGH_DENSITY_LIPOPROTEIN_PARTICLE</text>
<line x1="287.10" y1="161.46" x2="294.40" y2="161.46" stroke="#2da97e" stroke-width="0.85"/>
<text x="296.40" y="163.16" font-size="2.80" text-anchor="start" font-weight="normal" fill="#222" stroke="#222" stroke-width="0.07">GOCC_MICROBODY_LUMEN</text>
<line x1="287.10" y1="169.49" x2="294.40" y2="169.49" stroke="#2d9fcd" stroke-width="0.85"/>
<text x="296.40" y="171.19" font-size="2.80" text-anchor="start" font-weight="normal" fill="#222" stroke="#222" stroke-width="0.07">GOCC_NADH_DEHYDROGENASE_COMPLEX</text>
<line x1="287.10" y1="177.52" x2="294.40" y2="177.52" stroke="#c372cb" stroke-width="0.85"/>
<text x="296.40" y="179.22" font-size="2.80" text-anchor="start" font-weight="normal" fill="#222" stroke="#222" stroke-width="0.07">GOMF_AROMATASE_ACTIVITY</text>
<line x1="212.80" y1="149.80" x2="212.80" y2="262.10" stroke="#555" stroke-width="0.75"/>
<line x1="212.80" y1="262.10" x2="386.00" y2="262.10" stroke="#4d4d4d" stroke-width="0.7"/>
<line x1="211.80" y1="156.90" x2="212.80" y2="156.90" stroke="#666" stroke-width="0.5"/>
<text x="210.60" y="158.70" font-size="2.70" text-anchor="end" font-weight="normal" fill="#505050">0.0</text>
<line x1="211.80" y1="167.70" x2="212.80" y2="167.70" stroke="#666" stroke-width="0.5"/>
<text x="210.60" y="169.50" font-size="2.70" text-anchor="end" font-weight="normal" fill="#505050">-0.2</text>
<line x1="211.80" y1="178.40" x2="212.80" y2="178.40" stroke="#666" stroke-width="0.5"/>
<text x="210.60" y="180.20" font-size="2.70" text-anchor="end" font-weight="normal" fill="#505050">-0.4</text>
<line x1="211.80" y1="189.20" x2="212.80" y2="189.20" stroke="#666" stroke-width="0.5"/>
<text x="210.60" y="191.00" font-size="2.70" text-anchor="end" font-weight="normal" fill="#505050">-0.6</text>
<line x1="211.80" y1="199.90" x2="212.80" y2="199.90" stroke="#666" stroke-width="0.5"/>
<text x="210.60" y="201.70" font-size="2.70" text-anchor="end" font-weight="normal" fill="#505050">-0.8</text>
<line x1="211.80" y1="236.40" x2="212.80" y2="236.40" stroke="#666" stroke-width="0.5"/>
<text x="210.60" y="238.20" font-size="2.70" text-anchor="end" font-weight="normal" fill="#505050">1</text>
<line x1="211.80" y1="248.10" x2="212.80" y2="248.10" stroke="#666" stroke-width="0.5"/>
<text x="210.60" y="249.90" font-size="2.70" text-anchor="end" font-weight="normal" fill="#505050">0</text>
<line x1="211.80" y1="260.00" x2="212.80" y2="260.00" stroke="#666" stroke-width="0.5"/>
<text x="210.60" y="261.80" font-size="2.70" text-anchor="end" font-weight="normal" fill="#505050">-1</text>
<line x1="270.84" y1="262.10" x2="270.84" y2="263.10" stroke="#666" stroke-width="0.5"/>
<text x="270.84" y="266.30" font-size="2.55" text-anchor="middle" font-weight="normal" fill="#555">5000</text>
<line x1="328.89" y1="262.10" x2="328.89" y2="263.10" stroke="#666" stroke-width="0.5"/>
<text x="328.89" y="266.30" font-size="2.55" text-anchor="middle" font-weight="normal" fill="#555">10000</text>
<text x="201.80" y="178.60" font-size="3.85" text-anchor="middle" font-weight="normal" fill="#3a3a3a" transform="rotate(-90 201.80 178.60)" stroke="#3a3a3a" stroke-width="0.04">Running Enrichment Score</text>
<text x="202.60" y="244.80" font-size="3.80" text-anchor="middle" font-weight="normal" fill="#3a3a3a" transform="rotate(-90 202.60 244.80)" stroke="#3a3a3a" stroke-width="0.04">Ranked List Metric</text>
</svg>
</body></html>
